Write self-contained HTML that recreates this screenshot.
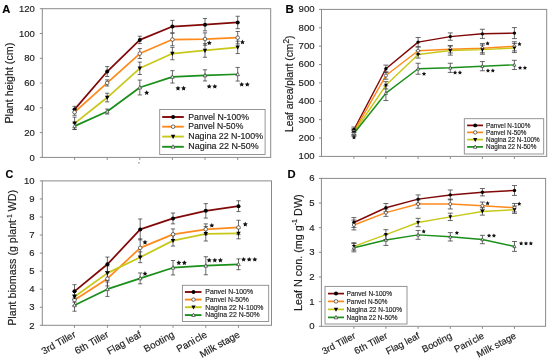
<!DOCTYPE html>
<html><head><meta charset="utf-8"><style>html,body{margin:0;padding:0;background:#fff;width:550px;height:361px;overflow:hidden}svg{display:block;will-change:transform}text{font-family:"Liberation Sans", sans-serif;stroke:#222;stroke-width:0.16px}</style></head><body>
<svg width="550" height="361" viewBox="0 0 550 361">
<rect width="550" height="361" fill="#fff"/>
<rect x="42.3" y="8.7" width="228.4" height="148.7" fill="none" stroke="#8a8a8a" stroke-width="1"/>
<line x1="39.8" y1="157.4" x2="42.3" y2="157.4" stroke="#8a8a8a" stroke-width="1"/>
<text x="34.8" y="160.52" font-size="9.5" text-anchor="end" fill="#1a1a1a">0</text>
<line x1="39.8" y1="132.62" x2="42.3" y2="132.62" stroke="#8a8a8a" stroke-width="1"/>
<text x="34.8" y="135.74" font-size="9.5" text-anchor="end" fill="#1a1a1a">20</text>
<line x1="39.8" y1="107.83" x2="42.3" y2="107.83" stroke="#8a8a8a" stroke-width="1"/>
<text x="34.8" y="110.95" font-size="9.5" text-anchor="end" fill="#1a1a1a">40</text>
<line x1="39.8" y1="83.05" x2="42.3" y2="83.05" stroke="#8a8a8a" stroke-width="1"/>
<text x="34.8" y="86.17" font-size="9.5" text-anchor="end" fill="#1a1a1a">60</text>
<line x1="39.8" y1="58.27" x2="42.3" y2="58.27" stroke="#8a8a8a" stroke-width="1"/>
<text x="34.8" y="61.39" font-size="9.5" text-anchor="end" fill="#1a1a1a">80</text>
<line x1="39.8" y1="33.48" x2="42.3" y2="33.48" stroke="#8a8a8a" stroke-width="1"/>
<text x="34.8" y="36.6" font-size="9.5" text-anchor="end" fill="#1a1a1a">100</text>
<line x1="39.8" y1="8.7" x2="42.3" y2="8.7" stroke="#8a8a8a" stroke-width="1"/>
<text x="34.8" y="11.82" font-size="9.5" text-anchor="end" fill="#1a1a1a">120</text>
<line x1="74.6" y1="157.4" x2="74.6" y2="159.9" stroke="#8a8a8a" stroke-width="1"/>
<line x1="107.2" y1="157.4" x2="107.2" y2="159.9" stroke="#8a8a8a" stroke-width="1"/>
<line x1="139.8" y1="157.4" x2="139.8" y2="159.9" stroke="#8a8a8a" stroke-width="1"/>
<line x1="172.4" y1="157.4" x2="172.4" y2="159.9" stroke="#8a8a8a" stroke-width="1"/>
<line x1="205" y1="157.4" x2="205" y2="159.9" stroke="#8a8a8a" stroke-width="1"/>
<line x1="237.7" y1="157.4" x2="237.7" y2="159.9" stroke="#8a8a8a" stroke-width="1"/>
<text x="2.2" y="12.8" font-size="11.2" font-weight="bold" fill="#000">A</text>
<text transform="translate(12.8 123.6) rotate(-90)" font-size="11.3" fill="#1a1a1a" textLength="80.8" lengthAdjust="spacingAndGlyphs">Plant height (cm)</text>
<polyline points="74.6,109.44 107.2,71.53 139.8,39.93 172.4,26.54 205,24.69 237.7,22.45" fill="none" stroke="#820808" stroke-width="1.75" stroke-linejoin="round"/>
<polyline points="74.6,112.17 107.2,82.93 139.8,53.56 172.4,39.56 205,39.06 237.7,37.7" fill="none" stroke="#ff8a1c" stroke-width="1.75" stroke-linejoin="round"/>
<polyline points="74.6,123.32 107.2,97.55 139.8,68.3 172.4,53.56 205,50.46 237.7,47.36" fill="none" stroke="#c8c81a" stroke-width="1.75" stroke-linejoin="round"/>
<polyline points="74.6,126.17 107.2,111.55 139.8,87.51 172.4,76.85 205,75.37 237.7,74.25" fill="none" stroke="#1a8f1a" stroke-width="1.75" stroke-linejoin="round"/>
<path d="M74.6 106.35V112.54M72.5 106.35H76.7M72.5 112.54H76.7" stroke="#3a3a3a" stroke-width="0.75" fill="none"/>
<path d="M107.2 66.57V76.48M105.1 66.57H109.3M105.1 76.48H109.3" stroke="#3a3a3a" stroke-width="0.75" fill="none"/>
<path d="M139.8 36.21V43.64M137.7 36.21H141.9M137.7 43.64H141.9" stroke="#3a3a3a" stroke-width="0.75" fill="none"/>
<path d="M172.4 20.35V32.74M170.3 20.35H174.5M170.3 32.74H174.5" stroke="#3a3a3a" stroke-width="0.75" fill="none"/>
<path d="M205 18.49V30.88M202.9 18.49H207.1M202.9 30.88H207.1" stroke="#3a3a3a" stroke-width="0.75" fill="none"/>
<path d="M237.7 16.26V28.65M235.6 16.26H239.8M235.6 28.65H239.8" stroke="#3a3a3a" stroke-width="0.75" fill="none"/>
<path d="M74.6 109.07V115.27M72.5 109.07H76.7M72.5 115.27H76.7" stroke="#3a3a3a" stroke-width="0.75" fill="none"/>
<path d="M107.2 79.83V86.02M105.1 79.83H109.3M105.1 86.02H109.3" stroke="#3a3a3a" stroke-width="0.75" fill="none"/>
<path d="M139.8 48.6V58.51M137.7 48.6H141.9M137.7 58.51H141.9" stroke="#3a3a3a" stroke-width="0.75" fill="none"/>
<path d="M172.4 33.36V45.75M170.3 33.36H174.5M170.3 45.75H174.5" stroke="#3a3a3a" stroke-width="0.75" fill="none"/>
<path d="M205 32.86V45.26M202.9 32.86H207.1M202.9 45.26H207.1" stroke="#3a3a3a" stroke-width="0.75" fill="none"/>
<path d="M237.7 31.5V43.89M235.6 31.5H239.8M235.6 43.89H239.8" stroke="#3a3a3a" stroke-width="0.75" fill="none"/>
<path d="M74.6 117.13V129.52M72.5 117.13H76.7M72.5 129.52H76.7" stroke="#3a3a3a" stroke-width="0.75" fill="none"/>
<path d="M107.2 93.21V101.89M105.1 93.21H109.3M105.1 101.89H109.3" stroke="#3a3a3a" stroke-width="0.75" fill="none"/>
<path d="M139.8 62.11V74.5M137.7 62.11H141.9M137.7 74.5H141.9" stroke="#3a3a3a" stroke-width="0.75" fill="none"/>
<path d="M172.4 47.36V59.75M170.3 47.36H174.5M170.3 59.75H174.5" stroke="#3a3a3a" stroke-width="0.75" fill="none"/>
<path d="M205 43.64V57.28M202.9 43.64H207.1M202.9 57.28H207.1" stroke="#3a3a3a" stroke-width="0.75" fill="none"/>
<path d="M237.7 41.17V53.56M235.6 41.17H239.8M235.6 53.56H239.8" stroke="#3a3a3a" stroke-width="0.75" fill="none"/>
<path d="M74.6 123.08V129.27M72.5 123.08H76.7M72.5 129.27H76.7" stroke="#3a3a3a" stroke-width="0.75" fill="none"/>
<path d="M107.2 109.07V114.03M105.1 109.07H109.3M105.1 114.03H109.3" stroke="#3a3a3a" stroke-width="0.75" fill="none"/>
<path d="M139.8 80.08V94.95M137.7 80.08H141.9M137.7 94.95H141.9" stroke="#3a3a3a" stroke-width="0.75" fill="none"/>
<path d="M172.4 70.66V83.05M170.3 70.66H174.5M170.3 83.05H174.5" stroke="#3a3a3a" stroke-width="0.75" fill="none"/>
<path d="M205 69.79V80.94M202.9 69.79H207.1M202.9 80.94H207.1" stroke="#3a3a3a" stroke-width="0.75" fill="none"/>
<path d="M237.7 67.44V81.07M235.6 67.44H239.8M235.6 81.07H239.8" stroke="#3a3a3a" stroke-width="0.75" fill="none"/>
<circle cx="74.6" cy="109.44" r="2" fill="#000"/>
<circle cx="107.2" cy="71.53" r="2" fill="#000"/>
<circle cx="139.8" cy="39.93" r="2" fill="#000"/>
<circle cx="172.4" cy="26.54" r="2" fill="#000"/>
<circle cx="205" cy="24.69" r="2" fill="#000"/>
<circle cx="237.7" cy="22.45" r="2" fill="#000"/>
<circle cx="74.6" cy="112.17" r="1.8" fill="#fff" stroke="#333" stroke-width="0.7"/>
<circle cx="107.2" cy="82.93" r="1.8" fill="#fff" stroke="#333" stroke-width="0.7"/>
<circle cx="139.8" cy="53.56" r="1.8" fill="#fff" stroke="#333" stroke-width="0.7"/>
<circle cx="172.4" cy="39.56" r="1.8" fill="#fff" stroke="#333" stroke-width="0.7"/>
<circle cx="205" cy="39.06" r="1.8" fill="#fff" stroke="#333" stroke-width="0.7"/>
<circle cx="237.7" cy="37.7" r="1.8" fill="#fff" stroke="#333" stroke-width="0.7"/>
<path d="M72.4 121.56L76.8 121.56L74.6 125.74Z" fill="#000"/>
<path d="M105 95.79L109.4 95.79L107.2 99.97Z" fill="#000"/>
<path d="M137.6 66.54L142 66.54L139.8 70.72Z" fill="#000"/>
<path d="M170.2 51.8L174.6 51.8L172.4 55.98Z" fill="#000"/>
<path d="M202.8 48.7L207.2 48.7L205 52.88Z" fill="#000"/>
<path d="M235.5 45.6L239.9 45.6L237.7 49.78Z" fill="#000"/>
<path d="M72.8 127.61L76.4 127.61L74.6 124.19Z" fill="#fff" stroke="#333" stroke-width="0.7"/>
<path d="M105.4 112.99L109 112.99L107.2 109.57Z" fill="#fff" stroke="#333" stroke-width="0.7"/>
<path d="M138 88.95L141.6 88.95L139.8 85.53Z" fill="#fff" stroke="#333" stroke-width="0.7"/>
<path d="M170.6 78.29L174.2 78.29L172.4 74.87Z" fill="#fff" stroke="#333" stroke-width="0.7"/>
<path d="M203.2 76.81L206.8 76.81L205 73.39Z" fill="#fff" stroke="#333" stroke-width="0.7"/>
<path d="M235.9 75.69L239.5 75.69L237.7 72.27Z" fill="#fff" stroke="#333" stroke-width="0.7"/>
<polygon points="146.7,90.2 147.46,91.75 149.17,92 147.94,93.2 148.23,94.9 146.7,94.1 145.17,94.9 145.46,93.2 144.23,92 145.94,91.75" fill="#141414"/>
<polygon points="178,85.8 178.76,87.35 180.47,87.6 179.24,88.8 179.53,90.5 178,89.7 176.47,90.5 176.76,88.8 175.53,87.6 177.24,87.35" fill="#141414"/>
<polygon points="183.6,85.8 184.36,87.35 186.07,87.6 184.84,88.8 185.13,90.5 183.6,89.7 182.07,90.5 182.36,88.8 181.13,87.6 182.84,87.35" fill="#141414"/>
<polygon points="209.2,83.9 209.96,85.45 211.67,85.7 210.44,86.9 210.73,88.6 209.2,87.8 207.67,88.6 207.96,86.9 206.73,85.7 208.44,85.45" fill="#141414"/>
<polygon points="214.8,83.9 215.56,85.45 217.27,85.7 216.04,86.9 216.33,88.6 214.8,87.8 213.27,88.6 213.56,86.9 212.33,85.7 214.04,85.45" fill="#141414"/>
<polygon points="241.7,81.9 242.46,83.45 244.17,83.7 242.94,84.9 243.23,86.6 241.7,85.8 240.17,86.6 240.46,84.9 239.23,83.7 240.94,83.45" fill="#141414"/>
<polygon points="247.3,81.9 248.06,83.45 249.77,83.7 248.54,84.9 248.83,86.6 247.3,85.8 245.77,86.6 246.06,84.9 244.83,83.7 246.54,83.45" fill="#141414"/>
<polygon points="209.3,40.4 210.06,41.95 211.77,42.2 210.54,43.4 210.83,45.1 209.3,44.3 207.77,45.1 208.06,43.4 206.83,42.2 208.54,41.95" fill="#141414"/>
<polygon points="242.5,39.6 243.26,41.15 244.97,41.4 243.74,42.6 244.03,44.3 242.5,43.5 240.97,44.3 241.26,42.6 240.03,41.4 241.74,41.15" fill="#141414"/>
<rect x="159.7" y="109.5" width="105.4" height="45" fill="#fff" stroke="#8a8a8a" stroke-width="0.9"/>
<line x1="162.2" y1="117" x2="183.8" y2="117" stroke="#820808" stroke-width="1.9"/>
<circle cx="173.1" cy="117" r="2" fill="#000"/>
<text x="188.3" y="119.67" font-size="8.6" fill="#1a1a1a" textLength="60.6" lengthAdjust="spacingAndGlyphs">Panvel N-100%</text>
<line x1="162.2" y1="126.7" x2="183.8" y2="126.7" stroke="#ff8a1c" stroke-width="1.9"/>
<circle cx="173.1" cy="126.7" r="1.8" fill="#fff" stroke="#333" stroke-width="0.7"/>
<text x="188.3" y="129.37" font-size="8.6" fill="#1a1a1a" textLength="55" lengthAdjust="spacingAndGlyphs">Panvel N-50%</text>
<line x1="162.2" y1="136.6" x2="183.8" y2="136.6" stroke="#c8c81a" stroke-width="1.9"/>
<path d="M170.9 134.84L175.3 134.84L173.1 139.02Z" fill="#000"/>
<text x="188.3" y="139.27" font-size="8.6" fill="#1a1a1a" textLength="74.8" lengthAdjust="spacingAndGlyphs">Nagina 22 N-100%</text>
<line x1="162.2" y1="146.8" x2="183.8" y2="146.8" stroke="#1a8f1a" stroke-width="1.9"/>
<path d="M171.3 148.24L174.9 148.24L173.1 144.82Z" fill="#fff" stroke="#333" stroke-width="0.7"/>
<text x="188.3" y="149.47" font-size="8.6" fill="#1a1a1a" textLength="70.4" lengthAdjust="spacingAndGlyphs">Nagina 22 N-50%</text>
<rect x="321.5" y="9.4" width="225.2" height="147" fill="none" stroke="#8a8a8a" stroke-width="1"/>
<line x1="319" y1="156.4" x2="321.5" y2="156.4" stroke="#8a8a8a" stroke-width="1"/>
<text x="314.6" y="159.36" font-size="9.6" text-anchor="end" fill="#1a1a1a">100</text>
<line x1="319" y1="138.03" x2="321.5" y2="138.03" stroke="#8a8a8a" stroke-width="1"/>
<text x="314.6" y="140.98" font-size="9.6" text-anchor="end" fill="#1a1a1a">200</text>
<line x1="319" y1="119.65" x2="321.5" y2="119.65" stroke="#8a8a8a" stroke-width="1"/>
<text x="314.6" y="122.61" font-size="9.6" text-anchor="end" fill="#1a1a1a">300</text>
<line x1="319" y1="101.28" x2="321.5" y2="101.28" stroke="#8a8a8a" stroke-width="1"/>
<text x="314.6" y="104.23" font-size="9.6" text-anchor="end" fill="#1a1a1a">400</text>
<line x1="319" y1="82.9" x2="321.5" y2="82.9" stroke="#8a8a8a" stroke-width="1"/>
<text x="314.6" y="85.86" font-size="9.6" text-anchor="end" fill="#1a1a1a">500</text>
<line x1="319" y1="64.53" x2="321.5" y2="64.53" stroke="#8a8a8a" stroke-width="1"/>
<text x="314.6" y="67.48" font-size="9.6" text-anchor="end" fill="#1a1a1a">600</text>
<line x1="319" y1="46.15" x2="321.5" y2="46.15" stroke="#8a8a8a" stroke-width="1"/>
<text x="314.6" y="49.11" font-size="9.6" text-anchor="end" fill="#1a1a1a">700</text>
<line x1="319" y1="27.78" x2="321.5" y2="27.78" stroke="#8a8a8a" stroke-width="1"/>
<text x="314.6" y="30.73" font-size="9.6" text-anchor="end" fill="#1a1a1a">800</text>
<line x1="319" y1="9.4" x2="321.5" y2="9.4" stroke="#8a8a8a" stroke-width="1"/>
<text x="314.6" y="12.36" font-size="9.6" text-anchor="end" fill="#1a1a1a">900</text>
<line x1="353.9" y1="156.4" x2="353.9" y2="158.9" stroke="#8a8a8a" stroke-width="1"/>
<line x1="385.9" y1="156.4" x2="385.9" y2="158.9" stroke="#8a8a8a" stroke-width="1"/>
<line x1="418.1" y1="156.4" x2="418.1" y2="158.9" stroke="#8a8a8a" stroke-width="1"/>
<line x1="450.3" y1="156.4" x2="450.3" y2="158.9" stroke="#8a8a8a" stroke-width="1"/>
<line x1="482.4" y1="156.4" x2="482.4" y2="158.9" stroke="#8a8a8a" stroke-width="1"/>
<line x1="514.4" y1="156.4" x2="514.4" y2="158.9" stroke="#8a8a8a" stroke-width="1"/>
<text x="285.5" y="12.8" font-size="11.5" font-weight="bold" fill="#000">B</text>
<text transform="translate(293.4 132) rotate(-90)" font-size="11.2" fill="#1a1a1a" textLength="96.4" lengthAdjust="spacingAndGlyphs">Leaf area/plant (cm<tspan dy="-4.2" font-size="9">2</tspan><tspan dy="4.2">)</tspan></text>
<polyline points="353.9,129.76 385.9,68.75 418.1,42.11 450.3,36.6 482.4,33.84 514.4,33.1" fill="none" stroke="#820808" stroke-width="1.45" stroke-linejoin="round"/>
<polyline points="353.9,131.59 385.9,75.55 418.1,50.74 450.3,49.27 482.4,48.17 514.4,46.33" fill="none" stroke="#ff8a1c" stroke-width="1.45" stroke-linejoin="round"/>
<polyline points="353.9,132.51 385.9,85.29 418.1,54.42 450.3,50.56 482.4,49.64 514.4,47.99" fill="none" stroke="#c8c81a" stroke-width="1.45" stroke-linejoin="round"/>
<polyline points="353.9,133.43 385.9,93.19 418.1,68.75 450.3,67.83 482.4,66.18 514.4,64.89" fill="none" stroke="#1a8f1a" stroke-width="1.45" stroke-linejoin="round"/>
<path d="M353.9 127V132.51M351.4 127H356.4M351.4 132.51H356.4" stroke="#3a3a3a" stroke-width="0.75" fill="none"/>
<path d="M385.9 65.08V72.43M383.4 65.08H388.4M383.4 72.43H388.4" stroke="#3a3a3a" stroke-width="0.75" fill="none"/>
<path d="M418.1 37.51V46.7M415.6 37.51H420.6M415.6 46.7H420.6" stroke="#3a3a3a" stroke-width="0.75" fill="none"/>
<path d="M450.3 32.92V40.27M447.8 32.92H452.8M447.8 40.27H452.8" stroke="#3a3a3a" stroke-width="0.75" fill="none"/>
<path d="M482.4 29.25V38.43M479.9 29.25H484.9M479.9 38.43H484.9" stroke="#3a3a3a" stroke-width="0.75" fill="none"/>
<path d="M514.4 27.59V38.62M511.9 27.59H516.9M511.9 38.62H516.9" stroke="#3a3a3a" stroke-width="0.75" fill="none"/>
<path d="M353.9 128.84V134.35M351.4 128.84H356.4M351.4 134.35H356.4" stroke="#3a3a3a" stroke-width="0.75" fill="none"/>
<path d="M385.9 71.88V79.23M383.4 71.88H388.4M383.4 79.23H388.4" stroke="#3a3a3a" stroke-width="0.75" fill="none"/>
<path d="M418.1 47.07V54.42M415.6 47.07H420.6M415.6 54.42H420.6" stroke="#3a3a3a" stroke-width="0.75" fill="none"/>
<path d="M450.3 45.6V52.95M447.8 45.6H452.8M447.8 52.95H452.8" stroke="#3a3a3a" stroke-width="0.75" fill="none"/>
<path d="M482.4 43.58V52.77M479.9 43.58H484.9M479.9 52.77H484.9" stroke="#3a3a3a" stroke-width="0.75" fill="none"/>
<path d="M514.4 41.74V50.93M511.9 41.74H516.9M511.9 50.93H516.9" stroke="#3a3a3a" stroke-width="0.75" fill="none"/>
<path d="M353.9 129.76V135.27M351.4 129.76H356.4M351.4 135.27H356.4" stroke="#3a3a3a" stroke-width="0.75" fill="none"/>
<path d="M385.9 81.61V88.96M383.4 81.61H388.4M383.4 88.96H388.4" stroke="#3a3a3a" stroke-width="0.75" fill="none"/>
<path d="M418.1 50.74V58.09M415.6 50.74H420.6M415.6 58.09H420.6" stroke="#3a3a3a" stroke-width="0.75" fill="none"/>
<path d="M450.3 45.97V55.15M447.8 45.97H452.8M447.8 55.15H452.8" stroke="#3a3a3a" stroke-width="0.75" fill="none"/>
<path d="M482.4 45.05V54.24M479.9 45.05H484.9M479.9 54.24H484.9" stroke="#3a3a3a" stroke-width="0.75" fill="none"/>
<path d="M514.4 43.39V52.58M511.9 43.39H516.9M511.9 52.58H516.9" stroke="#3a3a3a" stroke-width="0.75" fill="none"/>
<path d="M353.9 130.68V136.19M351.4 130.68H356.4M351.4 136.19H356.4" stroke="#3a3a3a" stroke-width="0.75" fill="none"/>
<path d="M385.9 85.84V100.54M383.4 85.84H388.4M383.4 100.54H388.4" stroke="#3a3a3a" stroke-width="0.75" fill="none"/>
<path d="M418.1 63.24V74.26M415.6 63.24H420.6M415.6 74.26H420.6" stroke="#3a3a3a" stroke-width="0.75" fill="none"/>
<path d="M450.3 63.24V72.43M447.8 63.24H452.8M447.8 72.43H452.8" stroke="#3a3a3a" stroke-width="0.75" fill="none"/>
<path d="M482.4 61.59V70.77M479.9 61.59H484.9M479.9 70.77H484.9" stroke="#3a3a3a" stroke-width="0.75" fill="none"/>
<path d="M514.4 60.3V69.49M511.9 60.3H516.9M511.9 69.49H516.9" stroke="#3a3a3a" stroke-width="0.75" fill="none"/>
<circle cx="353.9" cy="129.76" r="1.7" fill="#000"/>
<circle cx="385.9" cy="68.75" r="1.7" fill="#000"/>
<circle cx="418.1" cy="42.11" r="1.7" fill="#000"/>
<circle cx="450.3" cy="36.6" r="1.7" fill="#000"/>
<circle cx="482.4" cy="33.84" r="1.7" fill="#000"/>
<circle cx="514.4" cy="33.1" r="1.7" fill="#000"/>
<circle cx="353.9" cy="131.59" r="1.53" fill="#fff" stroke="#333" stroke-width="0.7"/>
<circle cx="385.9" cy="75.55" r="1.53" fill="#fff" stroke="#333" stroke-width="0.7"/>
<circle cx="418.1" cy="50.74" r="1.53" fill="#fff" stroke="#333" stroke-width="0.7"/>
<circle cx="450.3" cy="49.27" r="1.53" fill="#fff" stroke="#333" stroke-width="0.7"/>
<circle cx="482.4" cy="48.17" r="1.53" fill="#fff" stroke="#333" stroke-width="0.7"/>
<circle cx="514.4" cy="46.33" r="1.53" fill="#fff" stroke="#333" stroke-width="0.7"/>
<path d="M352.03 131.02L355.77 131.02L353.9 134.57Z" fill="#000"/>
<path d="M384.03 83.79L387.77 83.79L385.9 87.35Z" fill="#000"/>
<path d="M416.23 52.92L419.97 52.92L418.1 56.48Z" fill="#000"/>
<path d="M448.43 49.06L452.17 49.06L450.3 52.62Z" fill="#000"/>
<path d="M480.53 48.15L484.27 48.15L482.4 51.7Z" fill="#000"/>
<path d="M512.53 46.49L516.27 46.49L514.4 50.04Z" fill="#000"/>
<path d="M352.37 134.66L355.43 134.66L353.9 131.75Z" fill="#fff" stroke="#333" stroke-width="0.7"/>
<path d="M384.37 94.41L387.43 94.41L385.9 91.51Z" fill="#fff" stroke="#333" stroke-width="0.7"/>
<path d="M416.57 69.98L419.63 69.98L418.1 67.07Z" fill="#fff" stroke="#333" stroke-width="0.7"/>
<path d="M448.77 69.06L451.83 69.06L450.3 66.15Z" fill="#fff" stroke="#333" stroke-width="0.7"/>
<path d="M480.87 67.4L483.93 67.4L482.4 64.5Z" fill="#fff" stroke="#333" stroke-width="0.7"/>
<path d="M512.87 66.12L515.93 66.12L514.4 63.21Z" fill="#fff" stroke="#333" stroke-width="0.7"/>
<polygon points="354,135.24 354.66,136.59 356.15,136.8 355.08,137.85 355.33,139.33 354,138.63 352.67,139.33 352.92,137.85 351.85,136.8 353.34,136.59" fill="#141414"/>
<polygon points="424,71.54 424.66,72.89 426.15,73.1 425.08,74.15 425.33,75.63 424,74.93 422.67,75.63 422.92,74.15 421.85,73.1 423.34,72.89" fill="#141414"/>
<polygon points="455.06,70.34 455.73,71.69 457.22,71.9 456.14,72.95 456.39,74.43 455.06,73.73 453.73,74.43 453.99,72.95 452.91,71.9 454.4,71.69" fill="#141414"/>
<polygon points="459.94,70.34 460.6,71.69 462.09,71.9 461.01,72.95 461.27,74.43 459.94,73.73 458.61,74.43 458.86,72.95 457.78,71.9 459.27,71.69" fill="#141414"/>
<polygon points="487.96,68.44 488.63,69.79 490.12,70 489.04,71.05 489.29,72.53 487.96,71.83 486.63,72.53 486.89,71.05 485.81,70 487.3,69.79" fill="#141414"/>
<polygon points="492.84,68.44 493.5,69.79 494.99,70 493.91,71.05 494.17,72.53 492.84,71.83 491.51,72.53 491.76,71.05 490.68,70 492.17,69.79" fill="#141414"/>
<polygon points="520.06,65.64 520.73,66.99 522.22,67.2 521.14,68.25 521.39,69.73 520.06,69.03 518.73,69.73 518.99,68.25 517.91,67.2 519.4,66.99" fill="#141414"/>
<polygon points="524.94,65.64 525.6,66.99 527.09,67.2 526.01,68.25 526.27,69.73 524.94,69.03 523.61,69.73 523.86,68.25 522.78,67.2 524.27,66.99" fill="#141414"/>
<polygon points="487.6,41.24 488.26,42.59 489.75,42.8 488.68,43.85 488.93,45.33 487.6,44.63 486.27,45.33 486.52,43.85 485.45,42.8 486.94,42.59" fill="#141414"/>
<polygon points="519.5,41.84 520.16,43.19 521.65,43.4 520.58,44.45 520.83,45.93 519.5,45.23 518.17,45.93 518.42,44.45 517.35,43.4 518.84,43.19" fill="#141414"/>
<rect x="464.3" y="118.7" width="79.4" height="35.3" fill="#fff" stroke="#8a8a8a" stroke-width="0.9"/>
<line x1="467.1" y1="125.4" x2="483" y2="125.4" stroke="#820808" stroke-width="1.7"/>
<circle cx="475.2" cy="125.4" r="1.9" fill="#000"/>
<text x="486.1" y="127.66" font-size="7.3" fill="#1a1a1a" textLength="44.2" lengthAdjust="spacingAndGlyphs">Panvel N-100%</text>
<line x1="467.1" y1="132.4" x2="483" y2="132.4" stroke="#ff8a1c" stroke-width="1.7"/>
<circle cx="475.2" cy="132.4" r="1.71" fill="#fff" stroke="#333" stroke-width="0.7"/>
<text x="486.1" y="134.66" font-size="7.3" fill="#1a1a1a" textLength="40.3" lengthAdjust="spacingAndGlyphs">Panvel N-50%</text>
<line x1="467.1" y1="139.6" x2="483" y2="139.6" stroke="#c8c81a" stroke-width="1.7"/>
<path d="M473.11 137.93L477.29 137.93L475.2 141.9Z" fill="#000"/>
<text x="486.1" y="141.86" font-size="7.3" fill="#1a1a1a" textLength="53.6" lengthAdjust="spacingAndGlyphs">Nagina 22 N-100%</text>
<line x1="467.1" y1="146.9" x2="483" y2="146.9" stroke="#1a8f1a" stroke-width="1.7"/>
<path d="M473.49 148.27L476.91 148.27L475.2 145.02Z" fill="#fff" stroke="#333" stroke-width="0.7"/>
<text x="486.1" y="149.16" font-size="7.3" fill="#1a1a1a" textLength="50.2" lengthAdjust="spacingAndGlyphs">Nagina 22 N-50%</text>
<rect x="42.3" y="180.9" width="229.2" height="144.4" fill="none" stroke="#8a8a8a" stroke-width="1"/>
<line x1="39.8" y1="325.3" x2="42.3" y2="325.3" stroke="#8a8a8a" stroke-width="1"/>
<text x="34.5" y="328.52" font-size="9.5" text-anchor="end" fill="#1a1a1a">2</text>
<line x1="39.8" y1="307.25" x2="42.3" y2="307.25" stroke="#8a8a8a" stroke-width="1"/>
<text x="34.5" y="310.47" font-size="9.5" text-anchor="end" fill="#1a1a1a">3</text>
<line x1="39.8" y1="289.2" x2="42.3" y2="289.2" stroke="#8a8a8a" stroke-width="1"/>
<text x="34.5" y="292.42" font-size="9.5" text-anchor="end" fill="#1a1a1a">4</text>
<line x1="39.8" y1="271.15" x2="42.3" y2="271.15" stroke="#8a8a8a" stroke-width="1"/>
<text x="34.5" y="274.37" font-size="9.5" text-anchor="end" fill="#1a1a1a">5</text>
<line x1="39.8" y1="253.1" x2="42.3" y2="253.1" stroke="#8a8a8a" stroke-width="1"/>
<text x="34.5" y="256.32" font-size="9.5" text-anchor="end" fill="#1a1a1a">6</text>
<line x1="39.8" y1="235.05" x2="42.3" y2="235.05" stroke="#8a8a8a" stroke-width="1"/>
<text x="34.5" y="238.27" font-size="9.5" text-anchor="end" fill="#1a1a1a">7</text>
<line x1="39.8" y1="217" x2="42.3" y2="217" stroke="#8a8a8a" stroke-width="1"/>
<text x="34.5" y="220.22" font-size="9.5" text-anchor="end" fill="#1a1a1a">8</text>
<line x1="39.8" y1="198.95" x2="42.3" y2="198.95" stroke="#8a8a8a" stroke-width="1"/>
<text x="34.5" y="202.17" font-size="9.5" text-anchor="end" fill="#1a1a1a">9</text>
<line x1="39.8" y1="180.9" x2="42.3" y2="180.9" stroke="#8a8a8a" stroke-width="1"/>
<text x="34.5" y="184.12" font-size="9.5" text-anchor="end" fill="#1a1a1a">10</text>
<line x1="74.5" y1="325.3" x2="74.5" y2="327.8" stroke="#8a8a8a" stroke-width="1"/>
<line x1="107.4" y1="325.3" x2="107.4" y2="327.8" stroke="#8a8a8a" stroke-width="1"/>
<line x1="140.2" y1="325.3" x2="140.2" y2="327.8" stroke="#8a8a8a" stroke-width="1"/>
<line x1="173" y1="325.3" x2="173" y2="327.8" stroke="#8a8a8a" stroke-width="1"/>
<line x1="205.8" y1="325.3" x2="205.8" y2="327.8" stroke="#8a8a8a" stroke-width="1"/>
<line x1="238.5" y1="325.3" x2="238.5" y2="327.8" stroke="#8a8a8a" stroke-width="1"/>
<text x="5.5" y="178" font-size="10.8" font-weight="bold" fill="#000">C</text>
<text transform="translate(16.3 325.8) rotate(-90)" font-size="11.2" fill="#1a1a1a" textLength="135.8" lengthAdjust="spacingAndGlyphs">Plant biomass (g plant<tspan dy="-4.5" font-size="6.5">-1</tspan><tspan dy="4.5"> WD)</tspan></text>
<polyline points="74.5,291.37 107.4,264.29 140.2,229.45 173,218.44 205.8,210.86 238.5,206.17" fill="none" stroke="#820808" stroke-width="1.75" stroke-linejoin="round"/>
<polyline points="74.5,300.03 107.4,278.73 140.2,247.87 173,234.33 205.8,229.27 238.5,227.47" fill="none" stroke="#ff8a1c" stroke-width="1.75" stroke-linejoin="round"/>
<polyline points="74.5,296.78 107.4,273.14 140.2,257.25 173,240.65 205.8,233.79 238.5,233.43" fill="none" stroke="#c8c81a" stroke-width="1.75" stroke-linejoin="round"/>
<polyline points="74.5,305.26 107.4,289.2 140.2,278.37 173,267.72 205.8,265.74 238.5,264.29" fill="none" stroke="#1a8f1a" stroke-width="1.75" stroke-linejoin="round"/>
<path d="M74.5 284.69V298.04M72.4 284.69H76.6M72.4 298.04H76.6" stroke="#3a3a3a" stroke-width="0.75" fill="none"/>
<path d="M107.4 257.07V271.51M105.3 257.07H109.5M105.3 271.51H109.5" stroke="#3a3a3a" stroke-width="0.75" fill="none"/>
<path d="M140.2 218.99V239.92M138.1 218.99H142.3M138.1 239.92H142.3" stroke="#3a3a3a" stroke-width="0.75" fill="none"/>
<path d="M173 213.03V223.86M170.9 213.03H175.1M170.9 223.86H175.1" stroke="#3a3a3a" stroke-width="0.75" fill="none"/>
<path d="M205.8 203.64V218.08M203.7 203.64H207.9M203.7 218.08H207.9" stroke="#3a3a3a" stroke-width="0.75" fill="none"/>
<path d="M238.5 200.75V211.59M236.4 200.75H240.6M236.4 211.59H240.6" stroke="#3a3a3a" stroke-width="0.75" fill="none"/>
<path d="M74.5 294.62V305.44M72.4 294.62H76.6M72.4 305.44H76.6" stroke="#3a3a3a" stroke-width="0.75" fill="none"/>
<path d="M107.4 271.51V285.95M105.3 271.51H109.5M105.3 285.95H109.5" stroke="#3a3a3a" stroke-width="0.75" fill="none"/>
<path d="M140.2 238.84V256.89M138.1 238.84H142.3M138.1 256.89H142.3" stroke="#3a3a3a" stroke-width="0.75" fill="none"/>
<path d="M173 228.91V239.74M170.9 228.91H175.1M170.9 239.74H175.1" stroke="#3a3a3a" stroke-width="0.75" fill="none"/>
<path d="M205.8 223.86V234.69M203.7 223.86H207.9M203.7 234.69H207.9" stroke="#3a3a3a" stroke-width="0.75" fill="none"/>
<path d="M238.5 220.25V234.69M236.4 220.25H240.6M236.4 234.69H240.6" stroke="#3a3a3a" stroke-width="0.75" fill="none"/>
<path d="M74.5 291.37V302.2M72.4 291.37H76.6M72.4 302.2H76.6" stroke="#3a3a3a" stroke-width="0.75" fill="none"/>
<path d="M107.4 265.92V280.36M105.3 265.92H109.5M105.3 280.36H109.5" stroke="#3a3a3a" stroke-width="0.75" fill="none"/>
<path d="M140.2 251.84V262.67M138.1 251.84H142.3M138.1 262.67H142.3" stroke="#3a3a3a" stroke-width="0.75" fill="none"/>
<path d="M173 235.23V246.06M170.9 235.23H175.1M170.9 246.06H175.1" stroke="#3a3a3a" stroke-width="0.75" fill="none"/>
<path d="M205.8 226.57V241.01M203.7 226.57H207.9M203.7 241.01H207.9" stroke="#3a3a3a" stroke-width="0.75" fill="none"/>
<path d="M238.5 228.01V238.84M236.4 228.01H240.6M236.4 238.84H240.6" stroke="#3a3a3a" stroke-width="0.75" fill="none"/>
<path d="M74.5 299.31V311.22M72.4 299.31H76.6M72.4 311.22H76.6" stroke="#3a3a3a" stroke-width="0.75" fill="none"/>
<path d="M107.4 281.98V296.42M105.3 281.98H109.5M105.3 296.42H109.5" stroke="#3a3a3a" stroke-width="0.75" fill="none"/>
<path d="M140.2 272.96V283.79M138.1 272.96H142.3M138.1 283.79H142.3" stroke="#3a3a3a" stroke-width="0.75" fill="none"/>
<path d="M173 260.5V274.94M170.9 260.5H175.1M170.9 274.94H175.1" stroke="#3a3a3a" stroke-width="0.75" fill="none"/>
<path d="M205.8 256.71V274.76M203.7 256.71H207.9M203.7 274.76H207.9" stroke="#3a3a3a" stroke-width="0.75" fill="none"/>
<path d="M238.5 258.88V269.71M236.4 258.88H240.6M236.4 269.71H240.6" stroke="#3a3a3a" stroke-width="0.75" fill="none"/>
<circle cx="74.5" cy="291.37" r="2" fill="#000"/>
<circle cx="107.4" cy="264.29" r="2" fill="#000"/>
<circle cx="140.2" cy="229.45" r="2" fill="#000"/>
<circle cx="173" cy="218.44" r="2" fill="#000"/>
<circle cx="205.8" cy="210.86" r="2" fill="#000"/>
<circle cx="238.5" cy="206.17" r="2" fill="#000"/>
<circle cx="74.5" cy="300.03" r="1.8" fill="#fff" stroke="#333" stroke-width="0.7"/>
<circle cx="107.4" cy="278.73" r="1.8" fill="#fff" stroke="#333" stroke-width="0.7"/>
<circle cx="140.2" cy="247.87" r="1.8" fill="#fff" stroke="#333" stroke-width="0.7"/>
<circle cx="173" cy="234.33" r="1.8" fill="#fff" stroke="#333" stroke-width="0.7"/>
<circle cx="205.8" cy="229.27" r="1.8" fill="#fff" stroke="#333" stroke-width="0.7"/>
<circle cx="238.5" cy="227.47" r="1.8" fill="#fff" stroke="#333" stroke-width="0.7"/>
<path d="M72.3 295.02L76.7 295.02L74.5 299.2Z" fill="#000"/>
<path d="M105.2 271.38L109.6 271.38L107.4 275.56Z" fill="#000"/>
<path d="M138 255.49L142.4 255.49L140.2 259.67Z" fill="#000"/>
<path d="M170.8 238.89L175.2 238.89L173 243.07Z" fill="#000"/>
<path d="M203.6 232.03L208 232.03L205.8 236.21Z" fill="#000"/>
<path d="M236.3 231.67L240.7 231.67L238.5 235.85Z" fill="#000"/>
<path d="M72.7 306.7L76.3 306.7L74.5 303.28Z" fill="#fff" stroke="#333" stroke-width="0.7"/>
<path d="M105.6 290.64L109.2 290.64L107.4 287.22Z" fill="#fff" stroke="#333" stroke-width="0.7"/>
<path d="M138.4 279.81L142 279.81L140.2 276.39Z" fill="#fff" stroke="#333" stroke-width="0.7"/>
<path d="M171.2 269.16L174.8 269.16L173 265.74Z" fill="#fff" stroke="#333" stroke-width="0.7"/>
<path d="M204 267.18L207.6 267.18L205.8 263.75Z" fill="#fff" stroke="#333" stroke-width="0.7"/>
<path d="M236.7 265.73L240.3 265.73L238.5 262.31Z" fill="#fff" stroke="#333" stroke-width="0.7"/>
<polygon points="145,239.8 145.76,241.35 147.47,241.6 146.24,242.8 146.53,244.5 145,243.7 143.47,244.5 143.76,242.8 142.53,241.6 144.24,241.35" fill="#141414"/>
<polygon points="145,271.1 145.76,272.65 147.47,272.9 146.24,274.1 146.53,275.8 145,275 143.47,275.8 143.76,274.1 142.53,272.9 144.24,272.65" fill="#141414"/>
<polygon points="178.8,260.3 179.56,261.85 181.27,262.1 180.04,263.3 180.33,265 178.8,264.2 177.27,265 177.56,263.3 176.33,262.1 178.04,261.85" fill="#141414"/>
<polygon points="184.4,260.3 185.16,261.85 186.87,262.1 185.64,263.3 185.93,265 184.4,264.2 182.87,265 183.16,263.3 181.93,262.1 183.64,261.85" fill="#141414"/>
<polygon points="209.2,257.7 209.96,259.25 211.67,259.5 210.44,260.7 210.73,262.4 209.2,261.6 207.67,262.4 207.96,260.7 206.73,259.5 208.44,259.25" fill="#141414"/>
<polygon points="214.8,257.7 215.56,259.25 217.27,259.5 216.04,260.7 216.33,262.4 214.8,261.6 213.27,262.4 213.56,260.7 212.33,259.5 214.04,259.25" fill="#141414"/>
<polygon points="220.4,257.7 221.16,259.25 222.87,259.5 221.64,260.7 221.93,262.4 220.4,261.6 218.87,262.4 219.16,260.7 217.93,259.5 219.64,259.25" fill="#141414"/>
<polygon points="211.8,222.9 212.56,224.45 214.27,224.7 213.04,225.9 213.33,227.6 211.8,226.8 210.27,227.6 210.56,225.9 209.33,224.7 211.04,224.45" fill="#141414"/>
<polygon points="245.3,221.8 246.06,223.35 247.77,223.6 246.54,224.8 246.83,226.5 245.3,225.7 243.77,226.5 244.06,224.8 242.83,223.6 244.54,223.35" fill="#141414"/>
<polygon points="243.6,256.9 244.36,258.45 246.07,258.7 244.84,259.9 245.13,261.6 243.6,260.8 242.07,261.6 242.36,259.9 241.13,258.7 242.84,258.45" fill="#141414"/>
<polygon points="249.2,256.9 249.96,258.45 251.67,258.7 250.44,259.9 250.73,261.6 249.2,260.8 247.67,261.6 247.96,259.9 246.73,258.7 248.44,258.45" fill="#141414"/>
<polygon points="254.8,256.9 255.56,258.45 257.27,258.7 256.04,259.9 256.33,261.6 254.8,260.8 253.27,261.6 253.56,259.9 252.33,258.7 254.04,258.45" fill="#141414"/>
<rect x="182.4" y="285.3" width="86.3" height="36.2" fill="#fff" stroke="#8a8a8a" stroke-width="0.9"/>
<line x1="184.9" y1="292" x2="201.5" y2="292" stroke="#820808" stroke-width="1.9"/>
<circle cx="193.5" cy="292" r="1.9" fill="#000"/>
<text x="205.3" y="294.36" font-size="7.6" fill="#1a1a1a" textLength="47.7" lengthAdjust="spacingAndGlyphs">Panvel N-100%</text>
<line x1="184.9" y1="299.6" x2="201.5" y2="299.6" stroke="#ff8a1c" stroke-width="1.9"/>
<circle cx="193.5" cy="299.6" r="1.71" fill="#fff" stroke="#333" stroke-width="0.7"/>
<text x="205.3" y="301.96" font-size="7.6" fill="#1a1a1a" textLength="43.5" lengthAdjust="spacingAndGlyphs">Panvel N-50%</text>
<line x1="184.9" y1="307.2" x2="201.5" y2="307.2" stroke="#c8c81a" stroke-width="1.9"/>
<path d="M191.41 305.53L195.59 305.53L193.5 309.5Z" fill="#000"/>
<text x="205.3" y="309.56" font-size="7.6" fill="#1a1a1a" textLength="58.2" lengthAdjust="spacingAndGlyphs">Nagina 22 N-100%</text>
<line x1="184.9" y1="315.1" x2="201.5" y2="315.1" stroke="#1a8f1a" stroke-width="1.9"/>
<path d="M191.79 316.47L195.21 316.47L193.5 313.22Z" fill="#fff" stroke="#333" stroke-width="0.7"/>
<text x="205.3" y="317.46" font-size="7.6" fill="#1a1a1a" textLength="54.4" lengthAdjust="spacingAndGlyphs">Nagina 22 N-50%</text>
<text transform="translate(76.5 336.5) rotate(-29)" font-size="9.8" text-anchor="end" fill="#1a1a1a">3rd Tiller</text>
<text transform="translate(109.4 336.5) rotate(-29)" font-size="9.8" text-anchor="end" fill="#1a1a1a">6th Tiller</text>
<text transform="translate(142.2 336.5) rotate(-29)" font-size="9.8" text-anchor="end" fill="#1a1a1a">Flag leaf</text>
<text transform="translate(175 336.5) rotate(-29)" font-size="9.8" text-anchor="end" fill="#1a1a1a">Booting</text>
<text transform="translate(207.8 336.5) rotate(-29)" font-size="9.8" text-anchor="end" fill="#1a1a1a">Pani<tspan dx="1">cle</tspan></text>
<text transform="translate(240.5 336.5) rotate(-29)" font-size="9.8" text-anchor="end" fill="#1a1a1a">Milk stage</text>
<rect x="321.4" y="178.4" width="224.2" height="147.9" fill="none" stroke="#8a8a8a" stroke-width="1"/>
<line x1="318.9" y1="326.3" x2="321.4" y2="326.3" stroke="#8a8a8a" stroke-width="1"/>
<text x="314.6" y="329.36" font-size="9.6" text-anchor="end" fill="#1a1a1a">0</text>
<line x1="318.9" y1="301.65" x2="321.4" y2="301.65" stroke="#8a8a8a" stroke-width="1"/>
<text x="314.6" y="304.71" font-size="9.6" text-anchor="end" fill="#1a1a1a">1</text>
<line x1="318.9" y1="277" x2="321.4" y2="277" stroke="#8a8a8a" stroke-width="1"/>
<text x="314.6" y="280.06" font-size="9.6" text-anchor="end" fill="#1a1a1a">2</text>
<line x1="318.9" y1="252.35" x2="321.4" y2="252.35" stroke="#8a8a8a" stroke-width="1"/>
<text x="314.6" y="255.41" font-size="9.6" text-anchor="end" fill="#1a1a1a">3</text>
<line x1="318.9" y1="227.7" x2="321.4" y2="227.7" stroke="#8a8a8a" stroke-width="1"/>
<text x="314.6" y="230.76" font-size="9.6" text-anchor="end" fill="#1a1a1a">4</text>
<line x1="318.9" y1="203.05" x2="321.4" y2="203.05" stroke="#8a8a8a" stroke-width="1"/>
<text x="314.6" y="206.11" font-size="9.6" text-anchor="end" fill="#1a1a1a">5</text>
<line x1="318.9" y1="178.4" x2="321.4" y2="178.4" stroke="#8a8a8a" stroke-width="1"/>
<text x="314.6" y="181.46" font-size="9.6" text-anchor="end" fill="#1a1a1a">6</text>
<line x1="353.9" y1="326.3" x2="353.9" y2="328.8" stroke="#8a8a8a" stroke-width="1"/>
<line x1="385.9" y1="326.3" x2="385.9" y2="328.8" stroke="#8a8a8a" stroke-width="1"/>
<line x1="418.1" y1="326.3" x2="418.1" y2="328.8" stroke="#8a8a8a" stroke-width="1"/>
<line x1="450.3" y1="326.3" x2="450.3" y2="328.8" stroke="#8a8a8a" stroke-width="1"/>
<line x1="482.4" y1="326.3" x2="482.4" y2="328.8" stroke="#8a8a8a" stroke-width="1"/>
<line x1="514.5" y1="326.3" x2="514.5" y2="328.8" stroke="#8a8a8a" stroke-width="1"/>
<text x="287.5" y="178.3" font-size="11.2" font-weight="bold" fill="#000">D</text>
<text transform="translate(302 311) rotate(-90)" font-size="11.2" fill="#1a1a1a" textLength="116.7" lengthAdjust="spacingAndGlyphs">Leaf N con. (mg g<tspan dy="-4.8" font-size="7.5">-1</tspan><tspan dy="4.8"> DW)</tspan></text>
<polyline points="353.9,222.52 385.9,207.73 418.1,199.11 450.3,194.92 482.4,192.2 514.5,190.48" fill="none" stroke="#820808" stroke-width="1.45" stroke-linejoin="round"/>
<polyline points="353.9,224.99 385.9,212.66 418.1,204.04 450.3,204.04 482.4,205.76 514.5,207.73" fill="none" stroke="#ff8a1c" stroke-width="1.45" stroke-linejoin="round"/>
<polyline points="353.9,246.43 385.9,234.6 418.1,222.52 450.3,216.85 482.4,211.43 514.5,209.71" fill="none" stroke="#c8c81a" stroke-width="1.45" stroke-linejoin="round"/>
<polyline points="353.9,247.67 385.9,240.03 418.1,234.85 450.3,236.82 482.4,239.53 514.5,246.43" fill="none" stroke="#1a8f1a" stroke-width="1.45" stroke-linejoin="round"/>
<path d="M353.9 217.59V227.45M351.4 217.59H356.4M351.4 227.45H356.4" stroke="#3a3a3a" stroke-width="0.75" fill="none"/>
<path d="M385.9 203.54V211.92M383.4 203.54H388.4M383.4 211.92H388.4" stroke="#3a3a3a" stroke-width="0.75" fill="none"/>
<path d="M418.1 194.92V203.3M415.6 194.92H420.6M415.6 203.3H420.6" stroke="#3a3a3a" stroke-width="0.75" fill="none"/>
<path d="M450.3 189.99V199.85M447.8 189.99H452.8M447.8 199.85H452.8" stroke="#3a3a3a" stroke-width="0.75" fill="none"/>
<path d="M482.4 188.51V195.9M479.9 188.51H484.9M479.9 195.9H484.9" stroke="#3a3a3a" stroke-width="0.75" fill="none"/>
<path d="M514.5 185.55V195.41M512 185.55H517M512 195.41H517" stroke="#3a3a3a" stroke-width="0.75" fill="none"/>
<path d="M353.9 220.06V229.92M351.4 220.06H356.4M351.4 229.92H356.4" stroke="#3a3a3a" stroke-width="0.75" fill="none"/>
<path d="M385.9 208.97V216.36M383.4 208.97H388.4M383.4 216.36H388.4" stroke="#3a3a3a" stroke-width="0.75" fill="none"/>
<path d="M418.1 199.85V208.23M415.6 199.85H420.6M415.6 208.23H420.6" stroke="#3a3a3a" stroke-width="0.75" fill="none"/>
<path d="M450.3 199.11V208.97M447.8 199.11H452.8M447.8 208.97H452.8" stroke="#3a3a3a" stroke-width="0.75" fill="none"/>
<path d="M482.4 202.06V209.46M479.9 202.06H484.9M479.9 209.46H484.9" stroke="#3a3a3a" stroke-width="0.75" fill="none"/>
<path d="M514.5 203.54V211.92M512 203.54H517M512 211.92H517" stroke="#3a3a3a" stroke-width="0.75" fill="none"/>
<path d="M353.9 242.74V250.13M351.4 242.74H356.4M351.4 250.13H356.4" stroke="#3a3a3a" stroke-width="0.75" fill="none"/>
<path d="M385.9 229.67V239.53M383.4 229.67H388.4M383.4 239.53H388.4" stroke="#3a3a3a" stroke-width="0.75" fill="none"/>
<path d="M418.1 218.33V226.71M415.6 218.33H420.6M415.6 226.71H420.6" stroke="#3a3a3a" stroke-width="0.75" fill="none"/>
<path d="M450.3 213.16V220.55M447.8 213.16H452.8M447.8 220.55H452.8" stroke="#3a3a3a" stroke-width="0.75" fill="none"/>
<path d="M482.4 207.73V215.13M479.9 207.73H484.9M479.9 215.13H484.9" stroke="#3a3a3a" stroke-width="0.75" fill="none"/>
<path d="M514.5 206.01V213.4M512 206.01H517M512 213.4H517" stroke="#3a3a3a" stroke-width="0.75" fill="none"/>
<path d="M353.9 243.48V251.86M351.4 243.48H356.4M351.4 251.86H356.4" stroke="#3a3a3a" stroke-width="0.75" fill="none"/>
<path d="M385.9 234.6V245.45M383.4 234.6H388.4M383.4 245.45H388.4" stroke="#3a3a3a" stroke-width="0.75" fill="none"/>
<path d="M418.1 230.41V239.29M415.6 230.41H420.6M415.6 239.29H420.6" stroke="#3a3a3a" stroke-width="0.75" fill="none"/>
<path d="M450.3 232.63V241.01M447.8 232.63H452.8M447.8 241.01H452.8" stroke="#3a3a3a" stroke-width="0.75" fill="none"/>
<path d="M482.4 235.34V243.72M479.9 235.34H484.9M479.9 243.72H484.9" stroke="#3a3a3a" stroke-width="0.75" fill="none"/>
<path d="M514.5 241.5V251.36M512 241.5H517M512 251.36H517" stroke="#3a3a3a" stroke-width="0.75" fill="none"/>
<circle cx="353.9" cy="222.52" r="1.7" fill="#000"/>
<circle cx="385.9" cy="207.73" r="1.7" fill="#000"/>
<circle cx="418.1" cy="199.11" r="1.7" fill="#000"/>
<circle cx="450.3" cy="194.92" r="1.7" fill="#000"/>
<circle cx="482.4" cy="192.2" r="1.7" fill="#000"/>
<circle cx="514.5" cy="190.48" r="1.7" fill="#000"/>
<circle cx="353.9" cy="224.99" r="1.53" fill="#fff" stroke="#333" stroke-width="0.7"/>
<circle cx="385.9" cy="212.66" r="1.53" fill="#fff" stroke="#333" stroke-width="0.7"/>
<circle cx="418.1" cy="204.04" r="1.53" fill="#fff" stroke="#333" stroke-width="0.7"/>
<circle cx="450.3" cy="204.04" r="1.53" fill="#fff" stroke="#333" stroke-width="0.7"/>
<circle cx="482.4" cy="205.76" r="1.53" fill="#fff" stroke="#333" stroke-width="0.7"/>
<circle cx="514.5" cy="207.73" r="1.53" fill="#fff" stroke="#333" stroke-width="0.7"/>
<path d="M352.03 244.94L355.77 244.94L353.9 248.49Z" fill="#000"/>
<path d="M384.03 233.11L387.77 233.11L385.9 236.66Z" fill="#000"/>
<path d="M416.23 221.03L419.97 221.03L418.1 224.58Z" fill="#000"/>
<path d="M448.43 215.36L452.17 215.36L450.3 218.91Z" fill="#000"/>
<path d="M480.53 209.93L484.27 209.93L482.4 213.49Z" fill="#000"/>
<path d="M512.63 208.21L516.37 208.21L514.5 211.76Z" fill="#000"/>
<path d="M352.37 248.89L355.43 248.89L353.9 245.98Z" fill="#fff" stroke="#333" stroke-width="0.7"/>
<path d="M384.37 241.25L387.43 241.25L385.9 238.34Z" fill="#fff" stroke="#333" stroke-width="0.7"/>
<path d="M416.57 236.07L419.63 236.07L418.1 233.17Z" fill="#fff" stroke="#333" stroke-width="0.7"/>
<path d="M448.77 238.04L451.83 238.04L450.3 235.14Z" fill="#fff" stroke="#333" stroke-width="0.7"/>
<path d="M480.87 240.76L483.93 240.76L482.4 237.85Z" fill="#fff" stroke="#333" stroke-width="0.7"/>
<path d="M512.97 247.66L516.03 247.66L514.5 244.75Z" fill="#fff" stroke="#333" stroke-width="0.7"/>
<polygon points="423.7,229.24 424.36,230.59 425.85,230.8 424.78,231.85 425.03,233.33 423.7,232.63 422.37,233.33 422.62,231.85 421.55,230.8 423.04,230.59" fill="#141414"/>
<polygon points="456.9,230.64 457.56,231.99 459.05,232.2 457.98,233.25 458.23,234.73 456.9,234.03 455.57,234.73 455.82,233.25 454.75,232.2 456.24,231.99" fill="#141414"/>
<polygon points="487.6,201.04 488.26,202.39 489.75,202.6 488.68,203.65 488.93,205.13 487.6,204.43 486.27,205.13 486.52,203.65 485.45,202.6 486.94,202.39" fill="#141414"/>
<polygon points="489.06,233.44 489.73,234.79 491.22,235 490.14,236.05 490.39,237.53 489.06,236.83 487.73,237.53 487.99,236.05 486.91,235 488.4,234.79" fill="#141414"/>
<polygon points="493.94,233.44 494.6,234.79 496.09,235 495.01,236.05 495.27,237.53 493.94,236.83 492.61,237.53 492.86,236.05 491.78,235 493.27,234.79" fill="#141414"/>
<polygon points="519.2,201.54 519.86,202.89 521.35,203.1 520.28,204.15 520.53,205.63 519.2,204.93 517.87,205.63 518.12,204.15 517.05,203.1 518.54,202.89" fill="#141414"/>
<polygon points="521.13,241.24 521.79,242.59 523.28,242.8 522.2,243.85 522.46,245.33 521.13,244.63 519.8,245.33 520.05,243.85 518.98,242.8 520.46,242.59" fill="#141414"/>
<polygon points="526,241.24 526.66,242.59 528.15,242.8 527.08,243.85 527.33,245.33 526,244.63 524.67,245.33 524.92,243.85 523.85,242.8 525.34,242.59" fill="#141414"/>
<polygon points="530.87,241.24 531.54,242.59 533.02,242.8 531.95,243.85 532.2,245.33 530.87,244.63 529.54,245.33 529.8,243.85 528.72,242.8 530.21,242.59" fill="#141414"/>
<rect x="325" y="286.4" width="82" height="37.6" fill="#fff" stroke="#8a8a8a" stroke-width="0.9"/>
<line x1="328" y1="293.6" x2="344" y2="293.6" stroke="#820808" stroke-width="1.7"/>
<circle cx="336" cy="293.6" r="2" fill="#000"/>
<text x="346.6" y="295.86" font-size="7.3" fill="#1a1a1a" textLength="45.4" lengthAdjust="spacingAndGlyphs">Panvel N-100%</text>
<line x1="328" y1="301.4" x2="344" y2="301.4" stroke="#ff8a1c" stroke-width="1.7"/>
<circle cx="336" cy="301.4" r="1.8" fill="#fff" stroke="#333" stroke-width="0.7"/>
<text x="346.6" y="303.66" font-size="7.3" fill="#1a1a1a" textLength="40.8" lengthAdjust="spacingAndGlyphs">Panvel N-50%</text>
<line x1="328" y1="309.4" x2="344" y2="309.4" stroke="#c8c81a" stroke-width="1.7"/>
<path d="M333.8 307.64L338.2 307.64L336 311.82Z" fill="#000"/>
<text x="346.6" y="311.66" font-size="7.3" fill="#1a1a1a" textLength="55.4" lengthAdjust="spacingAndGlyphs">Nagina 22 N-100%</text>
<line x1="328" y1="317.4" x2="344" y2="317.4" stroke="#1a8f1a" stroke-width="1.7"/>
<path d="M334.2 318.84L337.8 318.84L336 315.42Z" fill="#fff" stroke="#333" stroke-width="0.7"/>
<text x="346.6" y="319.66" font-size="7.3" fill="#1a1a1a" textLength="51" lengthAdjust="spacingAndGlyphs">Nagina 22 N-50%</text>
<text transform="translate(356.2 337.9) rotate(-27.5)" font-size="9.5" text-anchor="end" fill="#1a1a1a">3rd Tiller</text>
<text transform="translate(388.2 337.9) rotate(-27.5)" font-size="9.5" text-anchor="end" fill="#1a1a1a">6th Tiller</text>
<text transform="translate(420.4 337.9) rotate(-27.5)" font-size="9.5" text-anchor="end" fill="#1a1a1a">Flag leaf</text>
<text transform="translate(452.6 337.9) rotate(-27.5)" font-size="9.5" text-anchor="end" fill="#1a1a1a">Booting</text>
<text transform="translate(484.7 337.9) rotate(-27.5)" font-size="9.5" text-anchor="end" fill="#1a1a1a">Pani<tspan dx="1">cle</tspan></text>
<text transform="translate(516.8 337.9) rotate(-27.5)" font-size="9.5" text-anchor="end" fill="#1a1a1a">Milk stage</text>
<rect x="138.3" y="162.2" width="1.2" height="1.3" fill="#777"/>
</svg></body></html>
